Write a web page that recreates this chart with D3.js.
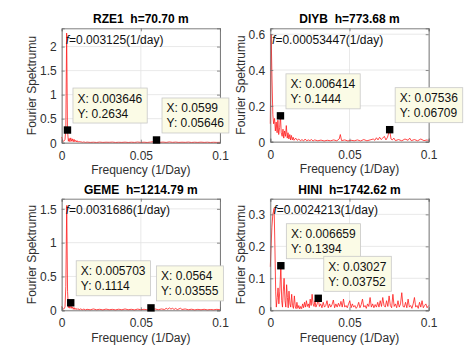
<!DOCTYPE html>
<html><head><meta charset="utf-8">
<script src="https://cdn.jsdelivr.net/npm/d3@7"></script>
<style>body{margin:0;background:#fff}svg{display:block;font-family:"Liberation Sans",Arial,sans-serif}text{white-space:pre}</style>
</head><body><svg id="c" width="474" height="355"></svg>
<script>
const titles = ["RZE1  h=70.70 m", "DIYB  h=773.68 m", "GEME  h=1214.79 m", "HINI  h=1742.62 m"];
const peakLabels = ["0.003125", "0.00053447", "0.0031686", "0.0024213"];
const xTicks = [0, 0.05, 0.1];
const xTickLabels = ["0", "0.05", "0.1"];
const yMax = [2.38, 0.633, 1.65, 0.349];
const yTicks = [[0,0.5,1,1.5,2],[0,0.2,0.4,0.6],[0,0.5,1,1.5],[0,0.1,0.2,0.3]];
const yTickLabels = [["0","0.5","1","1.5","2"],["0","0.2","0.4","0.6"],["0","0.5","1","1.5"],["0","0.1","0.2","0.3"]];

const rze1 = [[0,0.12],[0.0005,0.05],[0.001,0.03],[0.0016,0.04],[0.0021,0.07],[0.0026,0.3],[0.003125,2.28],[0.003646,0.2634],[0.0042,0.03],[0.0047,0.09],[0.0052,0.02],[0.0057,0.1],[0.0063,0.03],[0.0068,0.08],[0.0073,0.02],[0.0078,0.07],[0.0083,0.02],[0.0089,0.05],[0.0094,0.015],[0.0099,0.04],[0.0104,0.01],[0.011,0.03],[0.0115,0.01],[0.012,0.02],[0.013,0.008],[0.014,0.015],[0.015,0.006],[0.016,0.012],[0.018,0.006],[0.02,0.01],[0.022,0.005],[0.024,0.012],[0.026,0.006],[0.028,0.01],[0.03,0.008],[0.032,0.012],[0.034,0.005],[0.036,0.009],[0.038,0.006],[0.04,0.011],[0.042,0.005],[0.044,0.01],[0.046,0.006],[0.048,0.013],[0.05,0.006],[0.052,0.01],[0.054,0.005],[0.056,0.012],[0.058,0.02],[0.0594,0.03],[0.0599,0.05646],[0.0604,0.02],[0.062,0.008],[0.064,0.012],[0.066,0.006],[0.068,0.015],[0.07,0.007],[0.072,0.012],[0.074,0.006],[0.076,0.01],[0.078,0.007],[0.08,0.012],[0.082,0.005],[0.084,0.01],[0.086,0.006],[0.088,0.011],[0.09,0.006],[0.092,0.01],[0.094,0.005],[0.096,0.009],[0.098,0.006],[0.1,0.008]];

const diyb = [[0,0.1],[0.000534,0.6],[0.00107,0.35],[0.0016,0.15],[0.0021,0.1],[0.0027,0.13],[0.0032,0.06],[0.0037,0.11],[0.0043,0.05],[0.0048,0.12],[0.0053,0.04],[0.0059,0.08],[0.006414,0.1444],[0.0069,0.05],[0.0075,0.03],[0.008,0.07],[0.0085,0.02],[0.009,0.06],[0.0096,0.03],[0.0101,0.09],[0.0107,0.02],[0.0112,0.05],[0.0117,0.015],[0.0123,0.04],[0.0128,0.01],[0.0133,0.035],[0.0139,0.01],[0.0144,0.025],[0.015,0.008],[0.016,0.02],[0.017,0.008],[0.018,0.015],[0.019,0.005],[0.02,0.012],[0.021,0.004],[0.022,0.015],[0.023,0.005],[0.024,0.01],[0.025,0.006],[0.026,0.012],[0.027,0.004],[0.028,0.01],[0.03,0.005],[0.032,0.009],[0.034,0.004],[0.036,0.008],[0.038,0.005],[0.04,0.01],[0.042,0.005],[0.0435,0.015],[0.0442,0.04],[0.045,0.006],[0.047,0.01],[0.049,0.004],[0.051,0.008],[0.053,0.005],[0.055,0.01],[0.057,0.004],[0.059,0.012],[0.061,0.005],[0.063,0.01],[0.065,0.015],[0.066,0.008],[0.067,0.022],[0.068,0.01],[0.069,0.025],[0.07,0.012],[0.071,0.02],[0.072,0.03],[0.073,0.01],[0.074,0.025],[0.07536,0.06709],[0.0762,0.015],[0.077,0.01],[0.078,0.02],[0.079,0.006],[0.081,0.012],[0.083,0.005],[0.085,0.015],[0.087,0.008],[0.088,0.02],[0.089,0.006],[0.091,0.012],[0.093,0.005],[0.095,0.015],[0.097,0.006],[0.099,0.01],[0.1,0.005]];

const geme = [[0,0.06],[0.0005,0.03],[0.001,0.02],[0.0016,0.025],[0.0021,0.05],[0.0026,0.35],[0.0031686,1.55],[0.0037,0.28],[0.0042,0.04],[0.0047,0.07],[0.0052,0.03],[0.005703,0.1114],[0.0062,0.03],[0.0068,0.05],[0.0073,0.015],[0.0078,0.04],[0.0084,0.012],[0.009,0.03],[0.0096,0.01],[0.0102,0.025],[0.011,0.008],[0.012,0.02],[0.013,0.008],[0.014,0.018],[0.015,0.006],[0.016,0.015],[0.018,0.007],[0.02,0.02],[0.022,0.008],[0.024,0.015],[0.026,0.006],[0.028,0.018],[0.03,0.008],[0.032,0.014],[0.034,0.006],[0.036,0.016],[0.038,0.007],[0.04,0.02],[0.042,0.008],[0.044,0.015],[0.046,0.006],[0.048,0.018],[0.05,0.008],[0.052,0.015],[0.054,0.007],[0.0558,0.02],[0.0564,0.03555],[0.057,0.012],[0.059,0.02],[0.061,0.008],[0.063,0.02],[0.065,0.012],[0.066,0.03],[0.067,0.015],[0.068,0.035],[0.069,0.018],[0.07,0.03],[0.071,0.012],[0.072,0.028],[0.073,0.01],[0.075,0.03],[0.076,0.012],[0.078,0.02],[0.08,0.008],[0.082,0.016],[0.084,0.006],[0.086,0.014],[0.088,0.007],[0.09,0.015],[0.092,0.006],[0.094,0.012],[0.096,0.007],[0.098,0.014],[0.1,0.008]];

const hini = [[0,0.136],[0.0005,0.2],[0.001,0.26],[0.0016,0.3],[0.0024213,0.319],[0.0029,0.2],[0.0034,0.06],[0.0038,0.01],[0.0044,0.04],[0.0049,0.07],[0.0054,0.02],[0.006,0.06],[0.006659,0.1394],[0.0072,0.03],[0.0077,0.01],[0.0082,0.06],[0.0087,0.1],[0.0093,0.03],[0.0098,0.01],[0.0103,0.08],[0.0108,0.04],[0.0113,0.008],[0.0118,0.06],[0.0124,0.02],[0.0129,0.01],[0.0135,0.05],[0.014,0.015],[0.0146,0.006],[0.0152,0.045],[0.0158,0.01],[0.0163,0.005],[0.0168,0.025],[0.0174,0.006],[0.018,0.015],[0.0186,0.004],[0.0192,0.012],[0.0198,0.005],[0.0204,0.02],[0.021,0.008],[0.0216,0.025],[0.0222,0.01],[0.0228,0.03],[0.0234,0.012],[0.024,0.02],[0.0246,0.008],[0.0252,0.035],[0.0258,0.015],[0.0264,0.05],[0.027,0.02],[0.0276,0.012],[0.0282,0.03],[0.0288,0.01],[0.0296,0.02],[0.03027,0.03752],[0.031,0.012],[0.0318,0.02],[0.0326,0.008],[0.0334,0.025],[0.0342,0.01],[0.035,0.015],[0.0358,0.03],[0.0366,0.008],[0.0374,0.02],[0.0382,0.01],[0.039,0.018],[0.0398,0.032],[0.0406,0.008],[0.0414,0.02],[0.0422,0.01],[0.043,0.022],[0.0438,0.012],[0.0446,0.028],[0.0454,0.01],[0.0462,0.035],[0.047,0.01],[0.0478,0.015],[0.0486,0.008],[0.0494,0.02],[0.0502,0.03],[0.051,0.008],[0.0518,0.02],[0.0526,0.01],[0.0534,0.015],[0.0542,0.006],[0.055,0.012],[0.0558,0.025],[0.0566,0.008],[0.0574,0.018],[0.0582,0.035],[0.059,0.01],[0.0598,0.015],[0.0606,0.006],[0.0614,0.02],[0.0622,0.012],[0.063,0.04],[0.0638,0.01],[0.0646,0.02],[0.0654,0.008],[0.0662,0.018],[0.067,0.01],[0.0678,0.025],[0.0686,0.01],[0.0694,0.03],[0.0702,0.012],[0.071,0.04],[0.0718,0.015],[0.0726,0.01],[0.0734,0.03],[0.0742,0.012],[0.075,0.045],[0.0758,0.015],[0.0766,0.008],[0.0774,0.05],[0.0782,0.012],[0.079,0.02],[0.0798,0.008],[0.0806,0.03],[0.0814,0.01],[0.0822,0.02],[0.083,0.055],[0.0838,0.012],[0.0846,0.01],[0.0854,0.025],[0.0862,0.008],[0.087,0.035],[0.0878,0.01],[0.0886,0.015],[0.0894,0.006],[0.0902,0.02],[0.091,0.04],[0.0918,0.01],[0.0926,0.015],[0.0934,0.006],[0.0942,0.025],[0.095,0.01],[0.0958,0.03],[0.0966,0.008],[0.0974,0.015],[0.0982,0.02],[0.099,0.008],[0.1,0.015]];

const tipsRZE1 = [[0.003646,0.2634,"0.003646","0.2634"],[0.0599,0.05646,"0.0599","0.05646"]];
const tipsDIYB = [[0.006414,0.1444,"0.006414","0.1444"],[0.07536,0.06709,"0.07536","0.06709"]];
const tipsGEME = [[0.005703,0.1114,"0.005703","0.1114"],[0.0564,0.03555,"0.0564","0.03555"]];
const tipsHINI = [[0.006659,0.1394,"0.006659","0.1394"],[0.03027,0.03752,"0.03027","0.03752"]];

const series = [rze1, diyb, geme, hini];
const tips = [tipsRZE1, tipsDIYB, tipsGEME, tipsHINI];

// layout (pixels)
const boxes = [
  {l:61.7, r:220, t:28.3, b:142.7, ax:4},
  {l:270.3, r:428.7, t:28.3, b:141.7, ax:1.8},
  {l:61.7, r:220, t:198.7, b:310.3, ax:4},
  {l:270.3, r:428.7, t:198.7, b:310.3, ax:3.2}
];

const svg = d3.select("#c");
svg.append("rect").attr("width",474).attr("height",355).attr("fill","#fff");

boxes.forEach((B, i) => {
  const x = d3.scaleLinear().domain([0, 0.1]).range([B.l, B.r]);
  const y = d3.scaleLinear().domain([0, yMax[i]]).range([B.b, B.t]);
  const g = svg.append("g");

  // grid
  g.selectAll(".gx").data(xTicks).enter().append("line")
    .attr("x1", d => x(d)).attr("x2", d => x(d)).attr("y1", B.t).attr("y2", B.b)
    .attr("stroke", "#e3e3e3").attr("stroke-width", 0.8);
  g.selectAll(".gy").data(yTicks[i]).enter().append("line")
    .attr("y1", d => y(d)).attr("y2", d => y(d)).attr("x1", B.l).attr("x2", B.r)
    .attr("stroke", "#e3e3e3").attr("stroke-width", 0.8);

  // line
  const line = d3.line().x(d => x(d[0])).y(d => y(d[1]));
  g.append("path").datum(series[i]).attr("d", line)
    .attr("fill", "none").attr("stroke", "#ff1a1a").attr("stroke-width", 0.8)
    .attr("stroke-linejoin", "round");

  // axes with inner ticks
  const axB = d3.axisBottom(x).tickValues(xTicks).tickSize(-3).tickPadding(6).tickFormat((d, k) => xTickLabels[k]);
  const axT = d3.axisTop(x).tickValues(xTicks).tickSize(-3).tickFormat("");
  const axL = d3.axisLeft(y).tickValues(yTicks[i]).tickSize(-3).tickPadding(6).tickFormat((d, k) => yTickLabels[i][k]);
  const axR = d3.axisRight(y).tickValues(yTicks[i]).tickSize(-3).tickFormat("");
  const gb = g.append("g").attr("transform", `translate(0,${B.b})`).call(axB);
  const gt = g.append("g").attr("transform", `translate(0,${B.t})`).call(axT);
  const gl = g.append("g").attr("transform", `translate(${B.l},0)`).call(axL);
  const gr = g.append("g").attr("transform", `translate(${B.r},0)`).call(axR);
  [gb, gt, gl, gr].forEach(a => {
    a.select(".domain").attr("stroke", "#707070").attr("stroke-width", 0.9);
    a.selectAll(".tick line").attr("stroke", "#707070").attr("stroke-width", 0.8);
    a.selectAll("text").attr("font-family", '"Liberation Sans",Arial,sans-serif').attr("font-size", 12).attr("fill", "#303030");
  });
  gb.selectAll("text").attr("dy", null).attr("y", 17).attr("dominant-baseline", "auto");
  gl.selectAll("text").attr("dy", "0.36em").attr("x", -5);

  // title
  svg.append("text").attr("x", (B.l + B.r) / 2).attr("y", B.t - 5.2)
    .attr("text-anchor", "middle").attr("font-weight", "bold").attr("font-size", 12)
    .attr("fill", "#000").attr("xml:space", "preserve").text(titles[i]);
  // x label
  svg.append("text").attr("x", (B.l + B.r) / 2).attr("y", B.b + 31.5)
    .attr("text-anchor", "middle").attr("font-size", 12).attr("fill", "#303030")
    .text("Frequency (1/Day)");
  // y label
  svg.append("text").attr("transform", `translate(${B.l - 25.8},${(B.t + B.b) / 2}) rotate(-90)`)
    .attr("text-anchor", "middle").attr("font-size", 12).attr("fill", "#303030")
    .text("Fourier Spektrumu");

  // annotation
  const at = svg.append("text").attr("x", B.l + B.ax).attr("y", B.t + 15.2)
    .attr("font-size", 12).attr("fill", "#111");
  at.append("tspan").attr("font-style", "italic").text("f");
  at.append("tspan").text("=" + peakLabels[i] + "(1/day)");

  // markers
  svg.selectAll(null).data(tips[i]).enter().append("rect")
    .attr("x", d => x(d[0]) - 3.7).attr("y", d => y(d[1]) - 3.7)
    .attr("width", 7.4).attr("height", 7.4).attr("fill", "#000");

  // data tips
  tips[i].forEach(d => {
    const px = x(d[0]) + 5.5, pb = y(d[1]) - 7;
    const tg = svg.append("g");
    const rect = tg.append("rect").attr("fill", "#fbfbe6").attr("stroke", "#c8c8c8").attr("stroke-width", 0.8);
    const t1 = tg.append("text").attr("x", px + 4.6).attr("y", pb - 20.5).attr("font-size", 12).attr("fill", "#111").text("X: " + d[2]);
    const t2 = tg.append("text").attr("x", px + 4.6).attr("y", pb - 5.5).attr("font-size", 12).attr("fill", "#111").text("Y: " + d[3]);
    const w = Math.max(t1.node().getComputedTextLength(), t2.node().getComputedTextLength()) + 9.5;
    rect.attr("x", px).attr("y", pb - 35).attr("width", w).attr("height", 35);
  });
});
</script></body></html>
